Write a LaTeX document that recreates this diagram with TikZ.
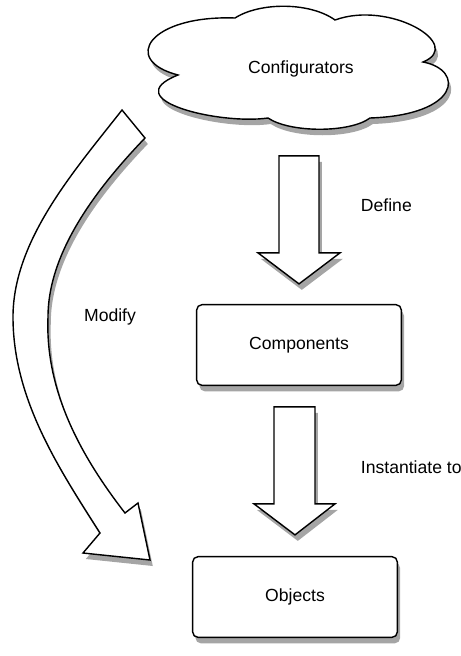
\documentclass[tikz,border=0pt]{standalone}
\usepackage{fontspec}
\setmainfont{Liberation Sans}
\usetikzlibrary{calc}
\usetikzlibrary{shadows}

\tikzset{
  dropshade/.style={drop shadow={fill=black!70, opacity=0.5, shadow xshift=0.7mm, shadow yshift=-1.5mm}},
  outline/.style={draw, line width=1pt, fill=white, line join=miter, dropshade},
  box/.style={outline, rounded corners=4pt, minimum width=5.12cm, minimum height=2.02cm},
}

\begin{document}
\begin{tikzpicture}[x=0.025cm, y=-0.025cm, font=\fontsize{12.5}{15}\selectfont]
\useasboundingbox (0,0) rectangle (460,656);

% cloud
\draw[outline] (235,18) .. controls (260,2) and (310,2) .. (335,20)
  .. controls (390,0) and (465,45) .. (423,62)
  .. controls (465,70) and (460,115) .. (370,118)
  .. controls (350,133) and (290,133) .. (268,118)
  .. controls (220,125) and (115,100) .. (178,75)
  .. controls (120,60) and (150,15) .. (235,18) -- cycle;
\node (cfg) at (301,69) {Configurators};

\node[box] (comp) at (299,345) {Components};
\node[box] (obj) at (295,597) {Objects};

\node[anchor=west] (define) at (356,205) {Define};
\node[anchor=west] (inst) at (356,467) {Instantiate to};
\node (modify) at (110,317) {Modify};

% block arrows
\draw[outline] ($(comp.north)+(0,-20)$) -- ++(41,-31) -- ++(-21,0) -- ++(0,-97) -- ++(-40,0) -- ++(0,97) -- ++(-21,0) -- cycle;
\draw[outline] ($(obj.north)+(0,-21)$) -- ++(40,-31) -- ++(-20,0) -- ++(0,-97) -- ++(-41,0) -- ++(0,97) -- ++(-20,0) -- cycle;

% curved arrow
\draw[outline] (122,110) .. controls (75,170) and (13,240) .. (13,317)
  .. controls (13,400) and (60,470) .. (100,533)
  -- (83,553) -- (150,560) -- (138,503) -- (125,513)
  .. controls (80,455) and (45,390) .. (48,317)
  .. controls (48,250) and (100,185) .. (145,138) -- cycle;

\end{tikzpicture}
\end{document}
